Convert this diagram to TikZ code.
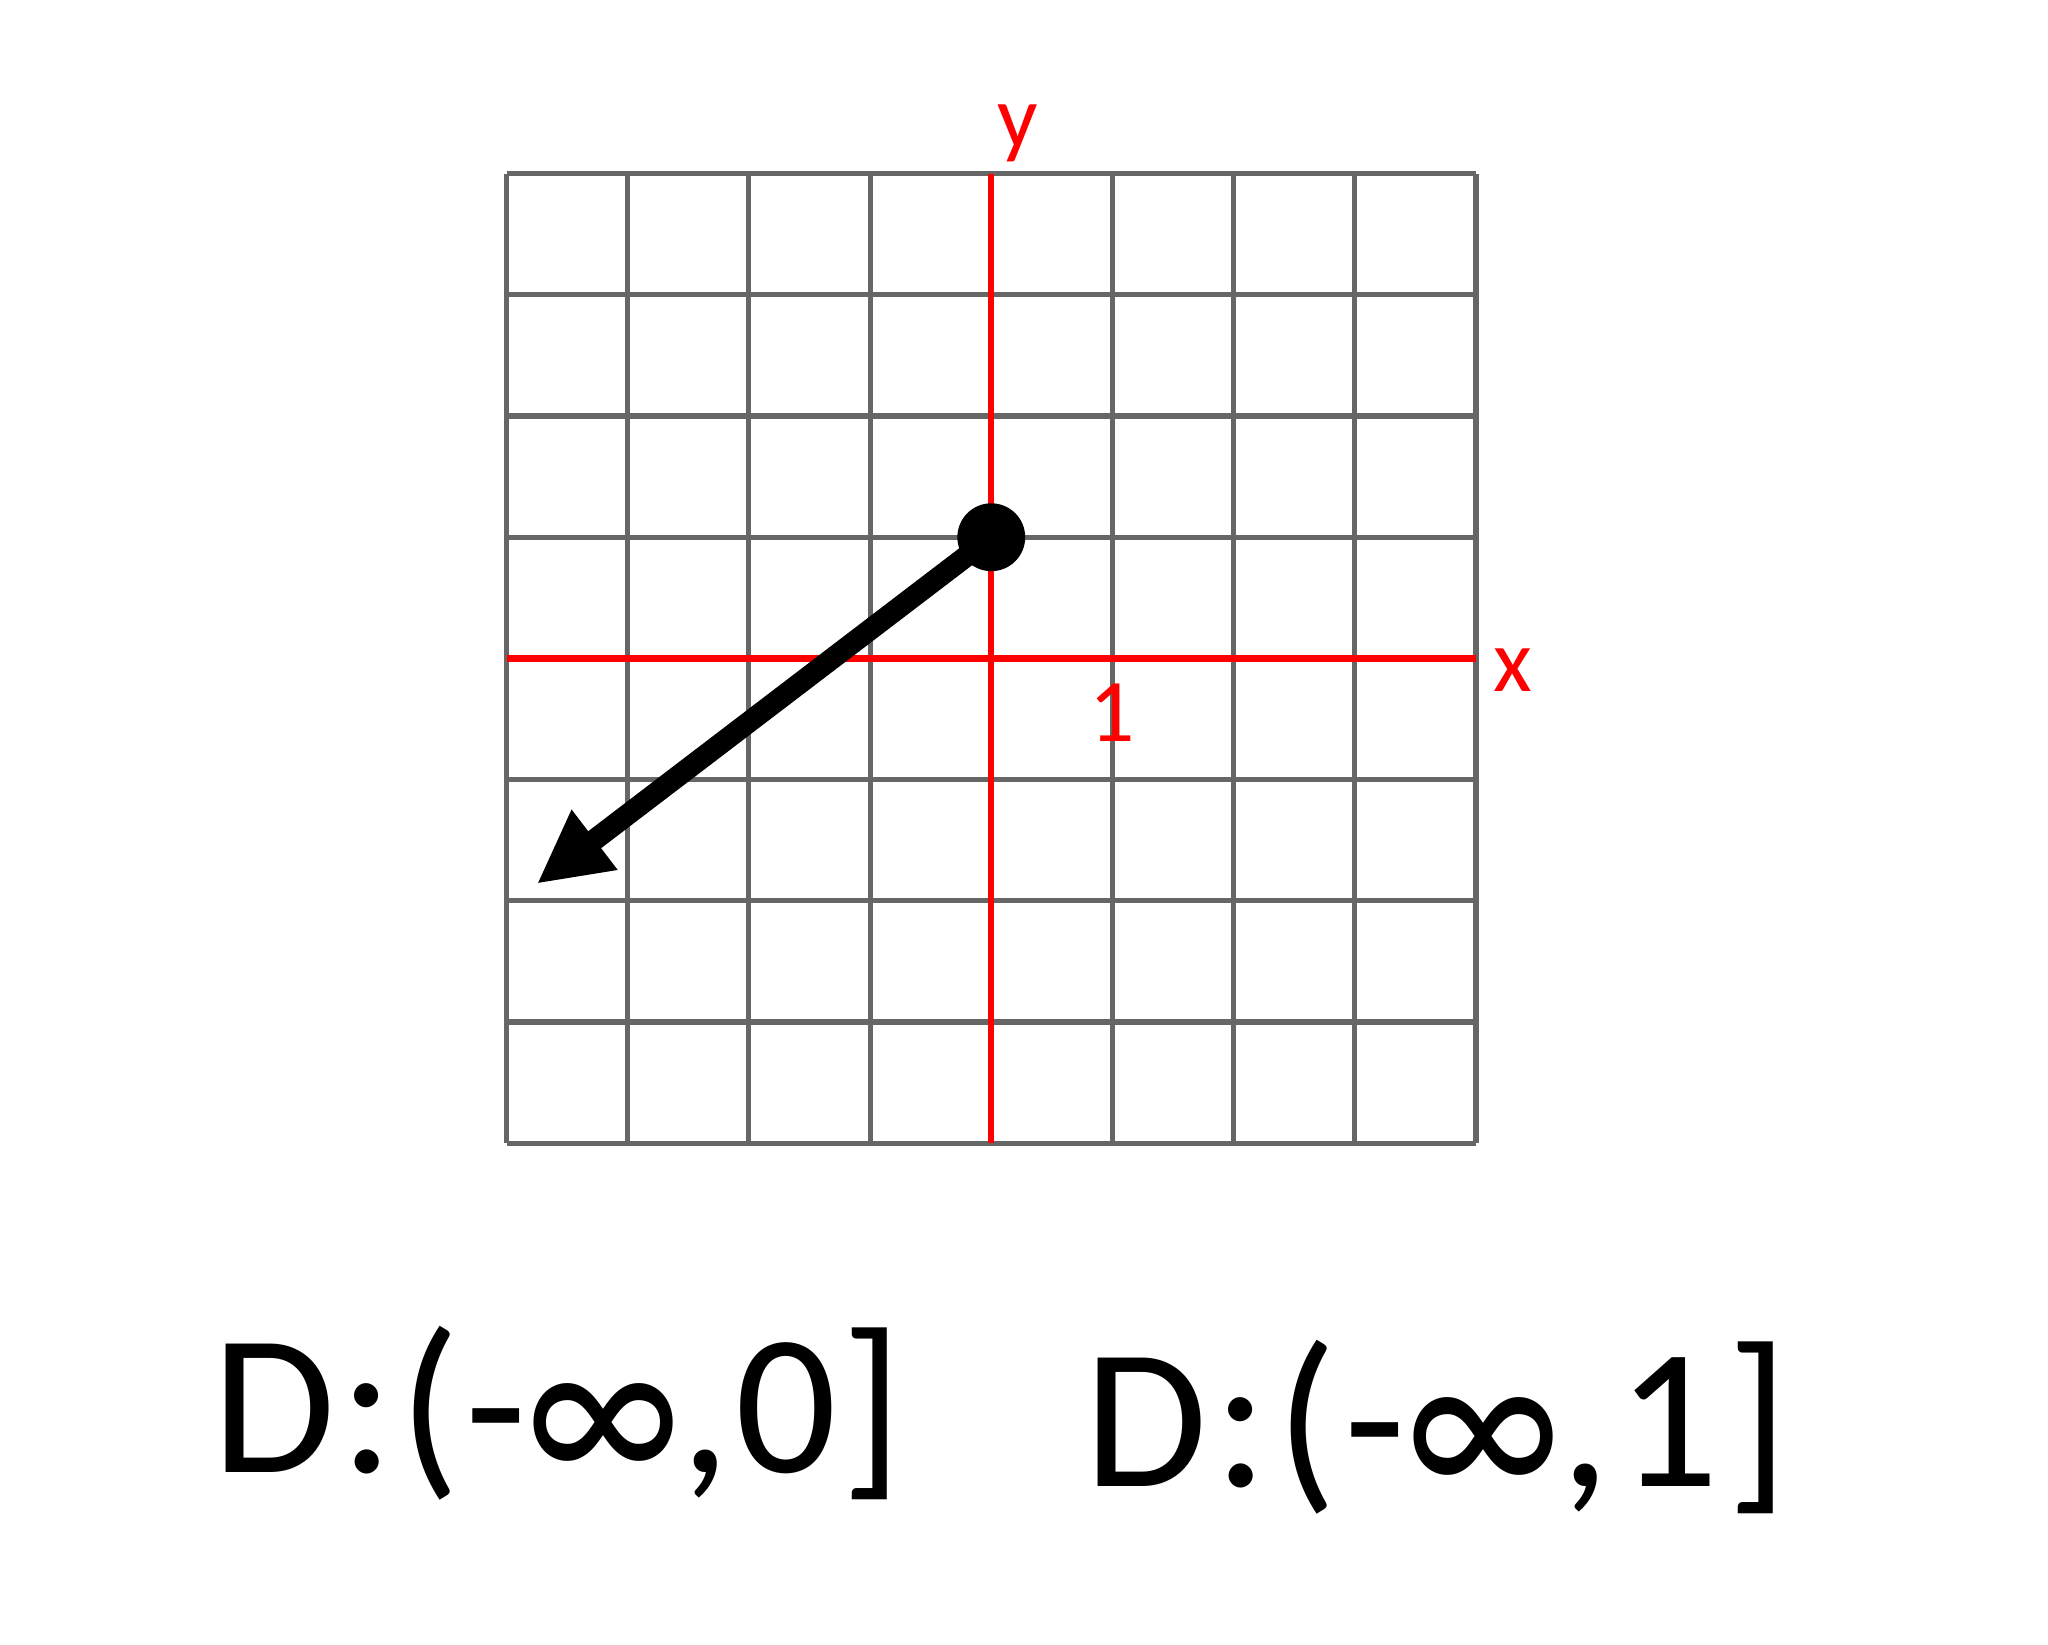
\documentclass[tikz,border=0pt]{standalone}
\usepackage{fontspec}
\setmainfont{Carlito}
\usetikzlibrary{arrows.meta}
\newcommand{\myinf}{\raisebox{-0.15cm}{\scalebox{0.9}[1.22]{∞}}}
\tikzset{
  gridline/.style={draw=black!60, line width=1.2pt},
  axisline/.style={draw=red, line width=1.5pt},
  axislabel/.style={text=red, font=\fontsize{21}{25}\selectfont, inner sep=0pt},
  domaintext/.style={font=\fontsize{47}{56}\selectfont, inner sep=0pt, anchor=base west},
}
\begin{document}
\begin{tikzpicture}
\useasboundingbox[fill=white] (-8.18,-8.14) rectangle (8.72,5.433);
% grid
\draw[gridline] (-4,-4) grid (4,4);
% axes
\draw[axisline] (-4,0) -- (4,0);
\draw[axisline] (0,-4) -- (0,4);
\node[axislabel] (ylab) at (0.22,4.33) {y};
\node[axislabel] (xlab) at (4.30,-0.10) {x};
\node[axislabel] (one) at (1.0,-0.45) {1};
% point and ray
\node[circle, fill=black, inner sep=0pt, minimum size=0.56cm] (p) at (0,1) {};
\coordinate (tip) at (-3.75,-1.86);
\draw[line width=5pt, -{Triangle[length=0.6cm, width=0.58cm]}] (p.center) -- (tip);
% domains
\node[domaintext] (d1) at (-6.43,-6.72) {\addfontfeature{LetterSpace=2.5}D:(-\myinf,0]};
\node[domaintext] (d2) at (0.76,-6.83) {\addfontfeature{LetterSpace=3.9}D:(-\myinf,1]};
\end{tikzpicture}
\end{document}
